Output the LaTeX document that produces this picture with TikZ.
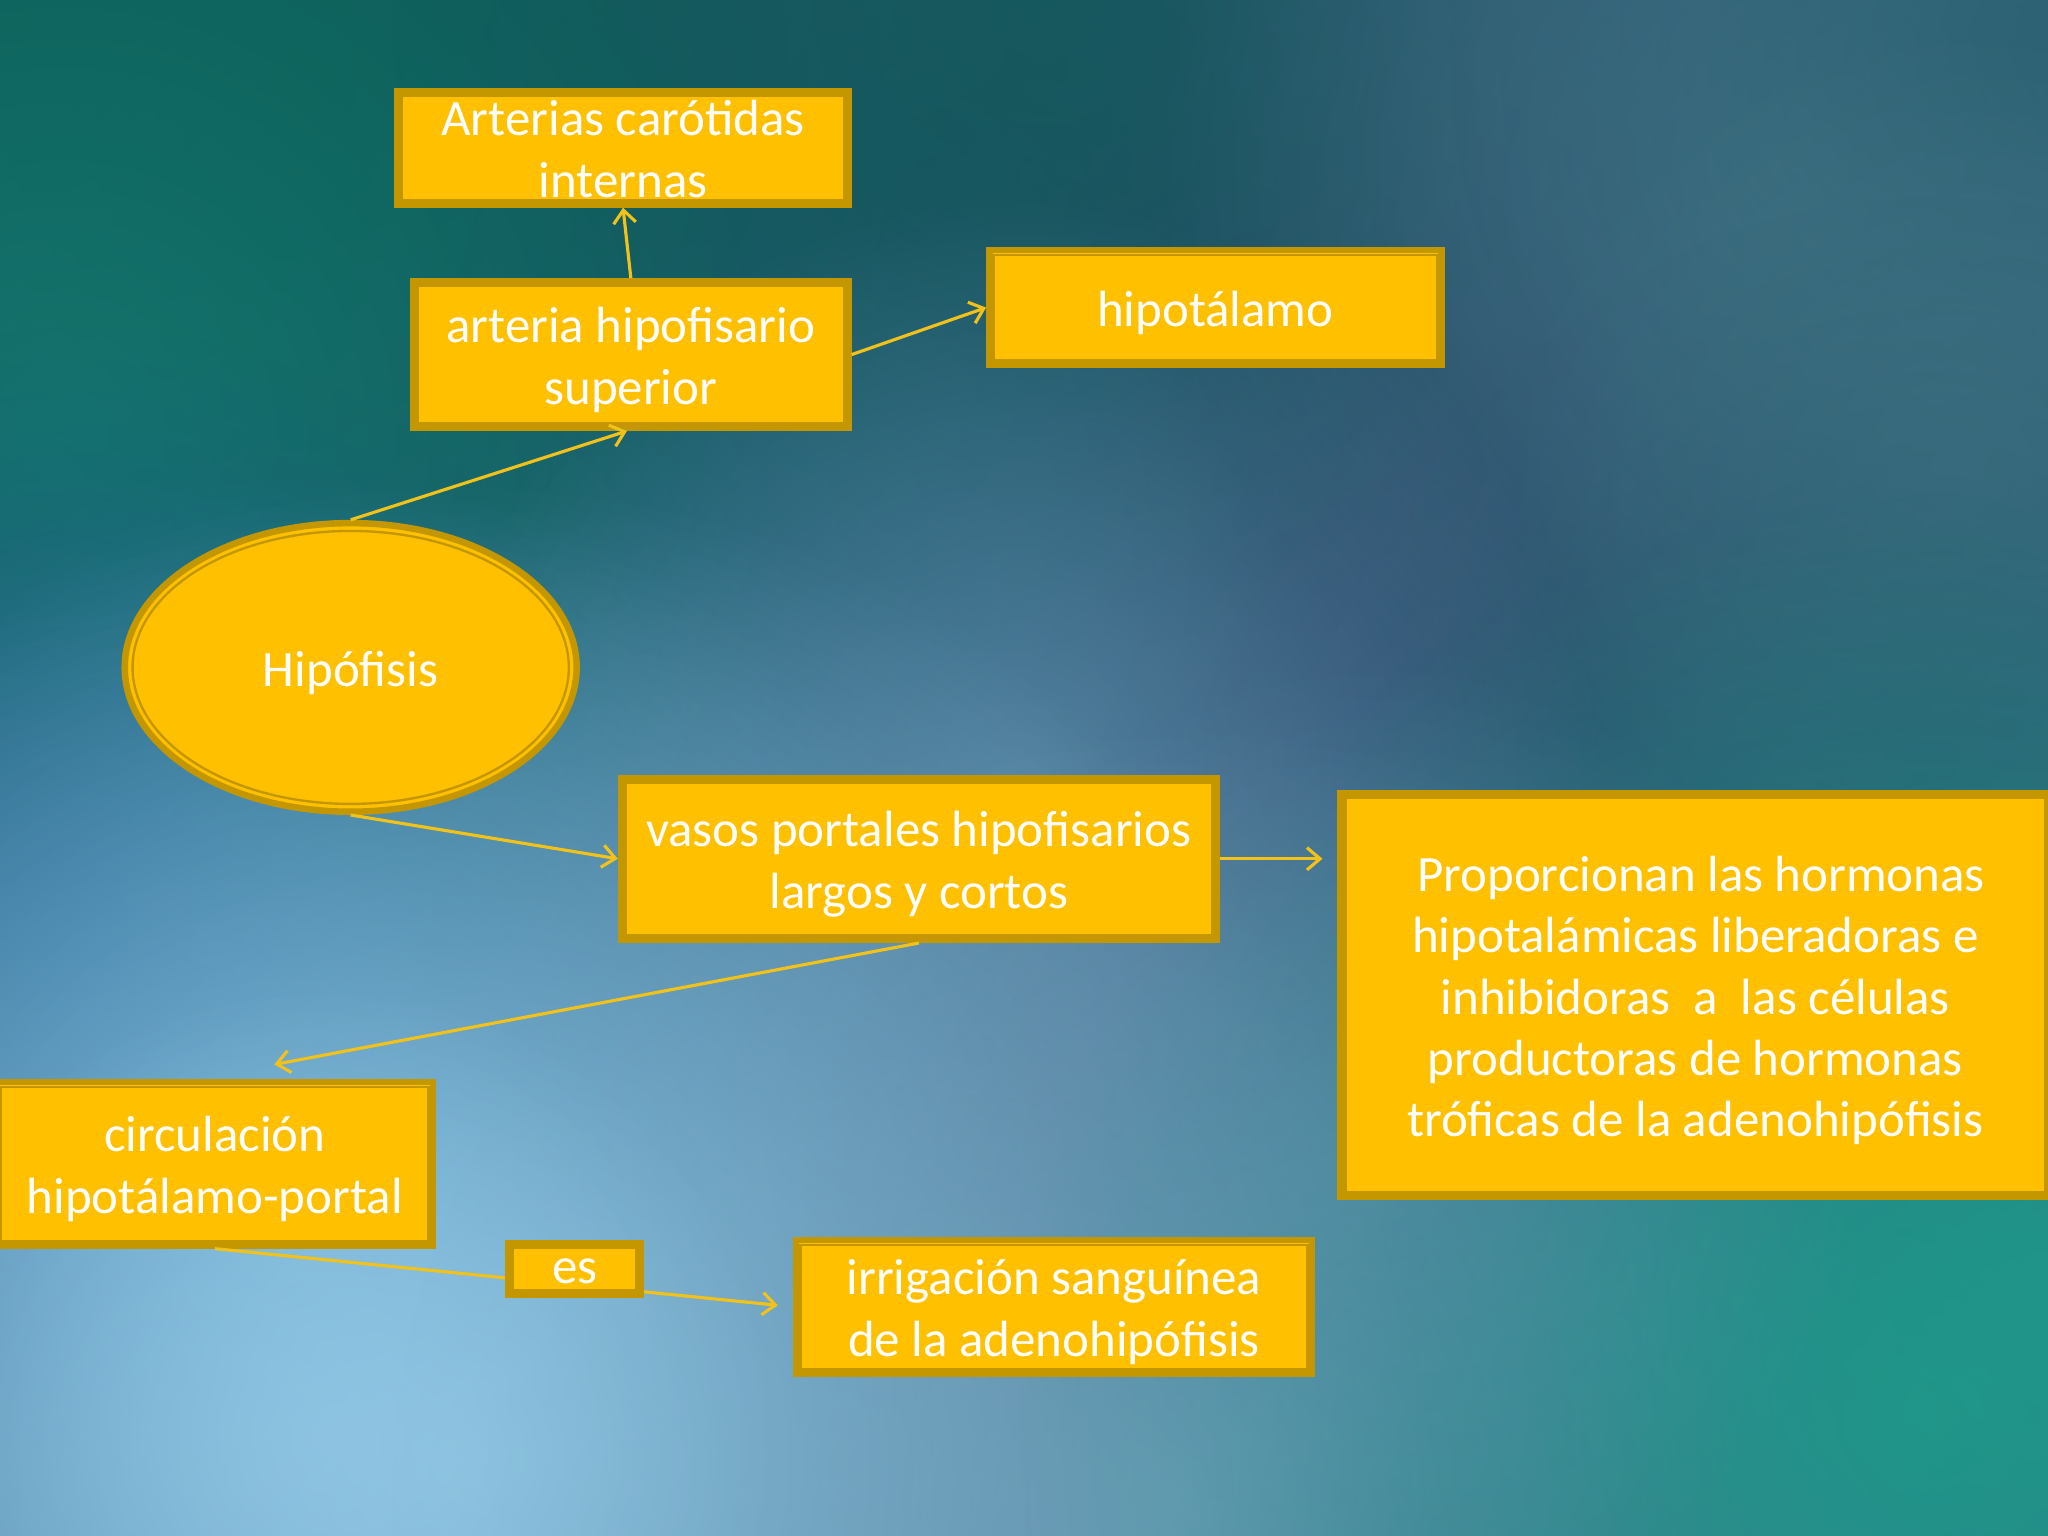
\documentclass[tikz,border=0pt]{standalone}
\usepackage{fontspec}
\setmainfont{Carlito}
\usetikzlibrary{arrows.meta,shapes.geometric,fadings}
\definecolor{boxfill}{HTML}{FFC000}
\definecolor{boxline}{HTML}{C49700}
\definecolor{connc}{HTML}{F2C21A}
\definecolor{bgbase}{HTML}{3B6885}
\definecolor{tealdark}{HTML}{0B5C56}
\definecolor{tealone}{HTML}{137A70}
\definecolor{navyc}{HTML}{2A4868}
\definecolor{grayteal}{HTML}{4A7E8C}
\definecolor{cloudc}{HTML}{6D9EBE}
\definecolor{skylight}{HTML}{95CBE8}
\definecolor{skytwo}{HTML}{62A6D4}
\definecolor{bluedark}{HTML}{1E5A8A}
\definecolor{bluemid}{HTML}{2D6590}
\definecolor{tealgreen}{HTML}{1E9A8A}
\definecolor{tealmid}{HTML}{255E6E}
\definecolor{bluegray}{HTML}{7EB0C8}
\tikzfading[name=blob, inner color=transparent!0, outer color=transparent!100]
\newcommand\bgblob[4]{\fill[#1, path fading=blob, fill opacity=#4] (#2) circle (#3);}
\begin{document}
\begin{tikzpicture}[x=0.5pt,y=-0.5pt,
  box/.style={rectangle, fill=boxfill, draw=boxline, line width=2.5pt, inner sep=0pt},
  ellbox/.style={box, ellipse},
  txt/.style={text=white, align=center, inner sep=0pt, yshift=-2pt,
    font=\fontsize{19.5}{23.5}\selectfont},
  innerline/.style={draw=boxline, line width=0.9pt},
  arr/.style={draw=connc, line width=1.2pt, -{Straight Barb[length=5pt,width=8.5pt]}}]
\useasboundingbox (0,0) rectangle (1568,1176);
\clip (0,0) rectangle (1568,1176);
% background
\fill[bgbase] (0,0) rectangle (1568,1176);
\bgblob{navyc}{1000,380}{900}{0.85}
\bgblob{navyc}{750,230}{700}{0.6}
\bgblob{bluemid}{520,430}{450}{0.6}
\bgblob{tealdark}{230,60}{900}{0.9}
\bgblob{tealdark}{0,0}{600}{0.9}
\bgblob{tealone}{50,330}{550}{0.8}
\bgblob{tealdark}{800,0}{500}{0.55}
\bgblob{grayteal}{1380,120}{500}{0.7}
\bgblob{tealmid}{1560,40}{450}{0.7}
\bgblob{grayteal}{1500,360}{350}{0.5}
\bgblob{tealmid}{1480,600}{450}{0.7}
\bgblob{cloudc}{780,600}{450}{0.6}
\bgblob{bluedark}{60,700}{450}{0.75}
\bgblob{skytwo}{220,960}{600}{0.7}
\bgblob{skylight}{350,1120}{750}{0.85}
\bgblob{skylight}{250,1100}{350}{0.6}
\bgblob{bluegray}{900,1150}{600}{0.6}
\bgblob{tealgreen}{1480,1080}{700}{0.85}
\bgblob{tealgreen}{1560,980}{400}{0.7}
\bgblob{cloudc}{1050,880}{380}{0.35}
% nodes
\node[box, minimum width=172.5pt, minimum height=43.5pt,
  label={[txt, yshift=1.5pt]center:Arterias carótidas\\internas}] (art) at (477,113) {};
\node[box, minimum width=166.5pt, minimum height=56pt,
  label={[txt]center:arteria hipofisario\\superior}] (sup) at (483,271.5) {};
\node[box, minimum width=173pt, minimum height=44pt,
  label={[txt]center:hipotálamo}] (hipot) at (930.5,235.5) {};
\node[ellbox, minimum width=173pt, minimum height=110.5pt,
  label={[txt]center:Hipófisis}] (hipo) at (268.5,511) {};
\node[box, minimum width=228pt, minimum height=62pt,
  label={[txt]center:vasos portales hipofisarios\\largos y cortos}] (vasos) at (703.5,657.5) {};
\node[box, minimum width=271.5pt, minimum height=154.5pt,
  label={[txt]center:\ Proporcionan las hormonas\\hipotalámicas liberadoras e\\inhibidoras\ \ a\ \ las células\\productoras de hormonas\\tróficas de la adenohipófisis}] (prop) at (1298,762) {};
\node[box, minimum width=167pt, minimum height=62.5pt,
  label={[txt]center:circulación\\hipotálamo-portal}] (circ) at (164.5,891) {};
\node[box, minimum width=197.5pt, minimum height=51pt,
  label={[txt]center:irrigación sanguínea\\de la adenohipófisis}] (irrig) at (807,1000.5) {};
\coordinate (ctip) at (210,815);
% connectors
\draw[arr] (sup.north) -- (art.south);
\draw[arr] (hipo.north) -- ([xshift=-1.5pt]sup.south);
\draw[arr] (sup.east) -- (hipot.west);
\draw[arr] (hipo.south) -- (vasos.west);
\draw[arr, shorten >=5.75pt] (vasos.east) -- (vasos.east -| prop.west);
\draw[arr] (vasos.south) -- (ctip);
\draw[arr, shorten >=5.75pt] (circ.south) -- (irrig.west);
\node[box, minimum width=50.5pt, minimum height=20pt,
  label={[txt, yshift=1pt]center:es}] (es) at (440,971.5) {};
% inner lines
\foreach \n in {art,sup,hipot,vasos,prop,circ,irrig,es}
  \draw[innerline] ([shift={(3pt,3pt)}]\n.south west) rectangle ([shift={(-3pt,-3pt)}]\n.north east);
\draw[innerline] (hipo.center) ellipse [x radius=83.5pt, y radius=52.25pt];
\end{tikzpicture}
\end{document}
